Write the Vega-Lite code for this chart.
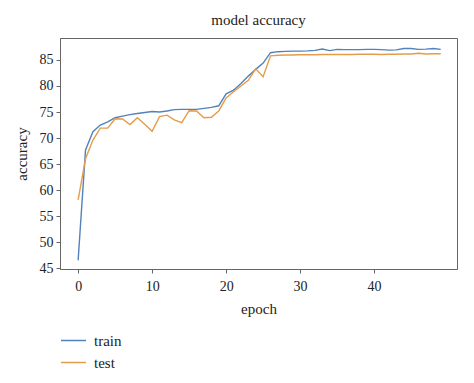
{
  "$schema": "https://vega.github.io/schema/vega-lite/v6.json",
  "width": 397,
  "height": 231,
  "autosize": "none",
  "padding": {"left": 60, "top": 38, "right": 17, "bottom": 114},
  "background": "white",
  "title": {"text": "model accuracy", "fontSize": 15, "fontWeight": "normal", "font": "Liberation Serif", "color": "#222", "offset": 10, "anchor": "middle"},
  "data": {"values": [
    {"epoch": 0, "series": "train", "accuracy": 46.5},
    {"epoch": 1, "series": "train", "accuracy": 67.7},
    {"epoch": 2, "series": "train", "accuracy": 71.2},
    {"epoch": 3, "series": "train", "accuracy": 72.5},
    {"epoch": 4, "series": "train", "accuracy": 73.1},
    {"epoch": 5, "series": "train", "accuracy": 73.9},
    {"epoch": 6, "series": "train", "accuracy": 74.2},
    {"epoch": 7, "series": "train", "accuracy": 74.5},
    {"epoch": 8, "series": "train", "accuracy": 74.7},
    {"epoch": 9, "series": "train", "accuracy": 74.9},
    {"epoch": 10, "series": "train", "accuracy": 75.1},
    {"epoch": 11, "series": "train", "accuracy": 75.0},
    {"epoch": 12, "series": "train", "accuracy": 75.2},
    {"epoch": 13, "series": "train", "accuracy": 75.45},
    {"epoch": 14, "series": "train", "accuracy": 75.5},
    {"epoch": 15, "series": "train", "accuracy": 75.5},
    {"epoch": 16, "series": "train", "accuracy": 75.5},
    {"epoch": 17, "series": "train", "accuracy": 75.7},
    {"epoch": 18, "series": "train", "accuracy": 75.9},
    {"epoch": 19, "series": "train", "accuracy": 76.2},
    {"epoch": 20, "series": "train", "accuracy": 78.5},
    {"epoch": 21, "series": "train", "accuracy": 79.2},
    {"epoch": 22, "series": "train", "accuracy": 80.5},
    {"epoch": 23, "series": "train", "accuracy": 81.9},
    {"epoch": 24, "series": "train", "accuracy": 83.2},
    {"epoch": 25, "series": "train", "accuracy": 84.4},
    {"epoch": 26, "series": "train", "accuracy": 86.4},
    {"epoch": 27, "series": "train", "accuracy": 86.6},
    {"epoch": 28, "series": "train", "accuracy": 86.65},
    {"epoch": 29, "series": "train", "accuracy": 86.7},
    {"epoch": 30, "series": "train", "accuracy": 86.7},
    {"epoch": 31, "series": "train", "accuracy": 86.75},
    {"epoch": 32, "series": "train", "accuracy": 86.85},
    {"epoch": 33, "series": "train", "accuracy": 87.1},
    {"epoch": 34, "series": "train", "accuracy": 86.8},
    {"epoch": 35, "series": "train", "accuracy": 87.05},
    {"epoch": 36, "series": "train", "accuracy": 87.0},
    {"epoch": 37, "series": "train", "accuracy": 87.0},
    {"epoch": 38, "series": "train", "accuracy": 87.0},
    {"epoch": 39, "series": "train", "accuracy": 87.05},
    {"epoch": 40, "series": "train", "accuracy": 87.05},
    {"epoch": 41, "series": "train", "accuracy": 87.0},
    {"epoch": 42, "series": "train", "accuracy": 86.9},
    {"epoch": 43, "series": "train", "accuracy": 86.95},
    {"epoch": 44, "series": "train", "accuracy": 87.2},
    {"epoch": 45, "series": "train", "accuracy": 87.2},
    {"epoch": 46, "series": "train", "accuracy": 87.05},
    {"epoch": 47, "series": "train", "accuracy": 87.1},
    {"epoch": 48, "series": "train", "accuracy": 87.2},
    {"epoch": 49, "series": "train", "accuracy": 87.05},
    {"epoch": 0, "series": "test", "accuracy": 58.1},
    {"epoch": 1, "series": "test", "accuracy": 66.0},
    {"epoch": 2, "series": "test", "accuracy": 69.6},
    {"epoch": 3, "series": "test", "accuracy": 71.9},
    {"epoch": 4, "series": "test", "accuracy": 71.9},
    {"epoch": 5, "series": "test", "accuracy": 73.7},
    {"epoch": 6, "series": "test", "accuracy": 73.65},
    {"epoch": 7, "series": "test", "accuracy": 72.6},
    {"epoch": 8, "series": "test", "accuracy": 73.9},
    {"epoch": 9, "series": "test", "accuracy": 72.65},
    {"epoch": 10, "series": "test", "accuracy": 71.3},
    {"epoch": 11, "series": "test", "accuracy": 74.1},
    {"epoch": 12, "series": "test", "accuracy": 74.4},
    {"epoch": 13, "series": "test", "accuracy": 73.5},
    {"epoch": 14, "series": "test", "accuracy": 72.95},
    {"epoch": 15, "series": "test", "accuracy": 75.25},
    {"epoch": 16, "series": "test", "accuracy": 75.2},
    {"epoch": 17, "series": "test", "accuracy": 73.9},
    {"epoch": 18, "series": "test", "accuracy": 74.0},
    {"epoch": 19, "series": "test", "accuracy": 75.2},
    {"epoch": 20, "series": "test", "accuracy": 77.7},
    {"epoch": 21, "series": "test", "accuracy": 78.9},
    {"epoch": 22, "series": "test", "accuracy": 80.0},
    {"epoch": 23, "series": "test", "accuracy": 81.1},
    {"epoch": 24, "series": "test", "accuracy": 83.3},
    {"epoch": 25, "series": "test", "accuracy": 81.8},
    {"epoch": 26, "series": "test", "accuracy": 85.8},
    {"epoch": 27, "series": "test", "accuracy": 85.9},
    {"epoch": 28, "series": "test", "accuracy": 85.95},
    {"epoch": 29, "series": "test", "accuracy": 85.95},
    {"epoch": 30, "series": "test", "accuracy": 86.0},
    {"epoch": 31, "series": "test", "accuracy": 86.0},
    {"epoch": 32, "series": "test", "accuracy": 86.0},
    {"epoch": 33, "series": "test", "accuracy": 86.05},
    {"epoch": 34, "series": "test", "accuracy": 86.05},
    {"epoch": 35, "series": "test", "accuracy": 86.05},
    {"epoch": 36, "series": "test", "accuracy": 86.05},
    {"epoch": 37, "series": "test", "accuracy": 86.05},
    {"epoch": 38, "series": "test", "accuracy": 86.1},
    {"epoch": 39, "series": "test", "accuracy": 86.1},
    {"epoch": 40, "series": "test", "accuracy": 86.1},
    {"epoch": 41, "series": "test", "accuracy": 86.05},
    {"epoch": 42, "series": "test", "accuracy": 86.1},
    {"epoch": 43, "series": "test", "accuracy": 86.1},
    {"epoch": 44, "series": "test", "accuracy": 86.15},
    {"epoch": 45, "series": "test", "accuracy": 86.15},
    {"epoch": 46, "series": "test", "accuracy": 86.3},
    {"epoch": 47, "series": "test", "accuracy": 86.15},
    {"epoch": 48, "series": "test", "accuracy": 86.2},
    {"epoch": 49, "series": "test", "accuracy": 86.2}
  ]},
  "mark": {"type": "line", "strokeWidth": 1.4},
  "encoding": {
    "x": {
      "field": "epoch", "type": "quantitative", "title": "epoch",
      "scale": {"domain": [-2.45, 51.2], "nice": false, "zero": false},
      "axis": {"values": [0, 10, 20, 30, 40], "grid": false, "tickSize": 4, "labelPadding": 6, "titlePadding": 8}
    },
    "y": {
      "field": "accuracy", "type": "quantitative", "title": "accuracy",
      "scale": {"domain": [44.81, 89.23], "nice": false, "zero": false},
      "axis": {"values": [45, 50, 55, 60, 65, 70, 75, 80, 85], "grid": false, "tickSize": 4, "labelPadding": 3, "titlePadding": 10}
    },
    "color": {
      "field": "series", "type": "nominal",
      "scale": {"domain": ["train", "test"], "range": ["#5282ba", "#e49c4a"]},
      "legend": {
        "title": null, "orient": "none", "legendX": 0, "legendY": 289,
        "symbolType": "stroke", "symbolSize": 625, "symbolStrokeWidth": 1.5,
        "labelFontSize": 15, "labelFont": "Liberation Serif", "labelColor": "#222",
        "labelOffset": 7, "rowPadding": -4, "padding": 0
      }
    }
  },
  "config": {
    "font": "Liberation Serif",
    "view": {"stroke": "#666", "strokeWidth": 1},
    "axis": {
      "labelFont": "Liberation Serif", "titleFont": "Liberation Serif",
      "labelFontSize": 14, "titleFontSize": 15, "titleFontWeight": "normal",
      "labelColor": "#222", "titleColor": "#222",
      "domainColor": "#666", "tickColor": "#666"
    }
  }
}
